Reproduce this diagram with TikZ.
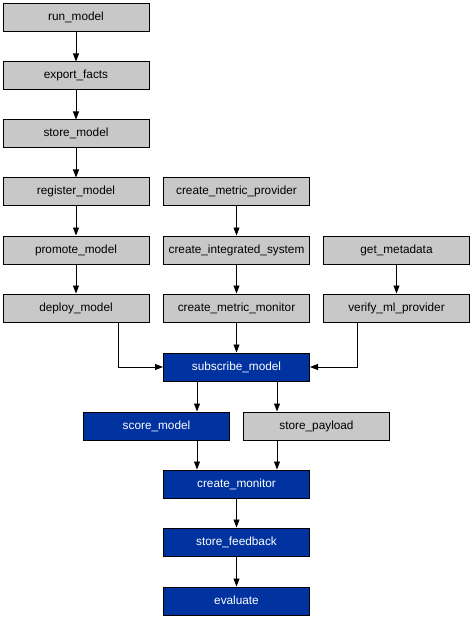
\documentclass[tikz,border=0pt]{standalone}
\usepackage{fontspec}
\setmainfont{Liberation Sans}
\usetikzlibrary{arrows.meta}
\definecolor{boxgray}{RGB}{200,200,200}
\definecolor{boxblue}{RGB}{0,51,160}
\begin{document}
\begin{tikzpicture}[x=1pt,y=-1pt,
  base/.style={draw=black,line width=1pt,minimum width=146pt,minimum height=28pt,inner sep=0pt,text height=8.6pt,text depth=2.6pt,font=\fontsize{11.8}{13}\selectfont},
  gbox/.style={base,fill=boxgray,text=black},
  bbox/.style={base,fill=boxblue,text=white},
  arr/.style={draw=black,line width=0.9pt,-{Triangle[length=8pt,width=6pt]}}]
\useasboundingbox (0,0) rectangle (474,620);
\node[gbox] (run) at (76,18) {run\_model};
\node[gbox] (exp) at (76,76) {export\_facts};
\node[gbox] (store) at (76,134) {store\_model};
\node[gbox] (reg) at (76,192) {register\_model};
\node[gbox] (prom) at (76,250) {promote\_model};
\node[gbox] (dep) at (76,308) {deploy\_model};
\node[gbox] (cmp) at (236.5,192) {create\_metric\_provider};
\node[gbox] (cis) at (236.5,250) {create\_integrated\_system};
\node[gbox] (cmm) at (236.5,308) {create\_metric\_monitor};
\node[gbox] (gm) at (396.5,250) {get\_metadata};
\node[gbox] (vmp) at (396.5,308) {verify\_ml\_provider};
\node[bbox] (sub) at (236.5,367) {subscribe\_model};
\node[bbox] (score) at (156.5,426) {score\_model};
\node[gbox] (pay) at (316.5,426) {store\_payload};
\node[bbox] (cm) at (236.5,484) {create\_monitor};
\node[bbox] (fb) at (236.5,542) {store\_feedback};
\node[bbox] (ev) at (236.5,601) {evaluate};
\draw[arr] (run) -- (exp);
\draw[arr] (exp) -- (store);
\draw[arr] (store) -- (reg);
\draw[arr] (reg) -- (prom);
\draw[arr] (prom) -- (dep);
\draw[arr] (cmp) -- (cis);
\draw[arr] (cis) -- (cmm);
\draw[arr] (cmm) -- (sub);
\draw[arr] (gm) -- (vmp);
\draw[arr] ([xshift=42pt]dep.south) |- (sub.west);
\draw[arr] ([xshift=-39.5pt]vmp.south) |- (sub.east);
\draw[arr] ([xshift=-39.5pt]sub.south) coordinate (s1) -- (s1 |- score.north);
\draw[arr] ([xshift=40.5pt]sub.south) coordinate (s2) -- (s2 |- pay.north);
\draw[arr] ([xshift=40.5pt]score.south) coordinate (s3) -- (s3 |- cm.north);
\draw[arr] ([xshift=-39.5pt]pay.south) coordinate (s4) -- (s4 |- cm.north);
\draw[arr] (cm) -- (fb);
\draw[arr] (fb) -- (ev);
\end{tikzpicture}
\end{document}
